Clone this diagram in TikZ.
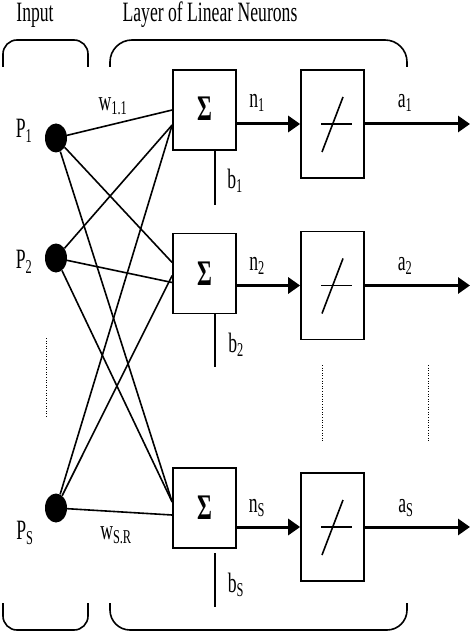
\documentclass[tikz,border=0pt]{standalone}
\usepackage{fontspec}
\setmainfont{Liberation Serif}[FakeStretch=0.63]
\usetikzlibrary{arrows.meta,positioning,calc,shapes.geometric}
\newcommand{\sumsign}{{\fontsize{36}{38}\selectfont\bfseries Σ}}
\tikzset{
  inpt/.style={ellipse,fill=black,minimum width=22pt,minimum height=29pt,inner sep=0pt},
  sumbox/.style={draw,line width=1.7pt,minimum width=63pt,minimum height=80pt,inner sep=0pt},
  linbox/.style={draw,line width=1.7pt,minimum width=63pt,minimum height=108pt,inner sep=0pt},
  wire/.style={line width=1.6pt},
  sig/.style={-{Triangle[length=12pt,width=16pt]},line width=3pt},
  bracket/.style={line width=1.6pt,rounded corners=#1},
  lbl/.style={inner sep=0pt,font=\fontsize{28}{30}\selectfont},
  dots/.style={line width=1pt,dash pattern=on 1pt off 1.6pt},
}
\begin{document}
\begin{tikzpicture}[x=1pt,y=-1pt]
\useasboundingbox (0,0) rectangle (474,631);

% headings and brackets
\node[lbl] (hin) at (35,15) {Input};
\node[lbl] (hlay) at (210,15) {Layer of Linear Neurons};
\draw[bracket=14pt] (3,67) -- (3,40) -- (88,40) -- (88,67);
\draw[bracket=22pt] (110,67) -- (110,40) -- (407,40) -- (407,67);
\draw[bracket=14pt] (3,603) -- (3,630) -- (88,630) -- (88,603);
\draw[bracket=20pt] (110,603) -- (110,630) -- (407,630) -- (407,603);

% inputs
\node[inpt] (p1) at (56,138) {};
\node[inpt] (p2) at (56,258) {};
\node[inpt] (ps) at (56,508) {};
\node[lbl] (lp1) at (24,131) {P\textsubscript{1}};
\node[lbl] (lp2) at (24,262) {P\textsubscript{2}};
\node[lbl] (lps) at (25,533) {P\textsubscript{S}};

% neurons
\node[sumbox] (s1) at (204.5,110) {\raisebox{2pt}{\sumsign}};
\node[sumbox] (s2) at (204.5,273.5) {\sumsign};
\node[sumbox] (s3) at (204.5,508) {\sumsign};
\node[linbox] (l1) at (332.5,124) {};
\node[linbox] (l2) at (332.5,285.5) {};
\node[linbox] (l3) at (332.5,527) {};
\foreach \b in {l1,l2,l3}{
  \draw[wire] ([xshift=-11.5pt]\b.center) -- ([xshift=19.5pt]\b.center);
  \draw[wire] ([xshift=-10.5pt,yshift=-28pt]\b.center) -- ([xshift=10.5pt,yshift=27pt]\b.center);
}

% weights
\draw[wire] (p1) -- (s1.west);
\draw[wire] (p1) -- ([yshift=11pt]s2.west);
\draw[wire] (p1) -- ([yshift=6pt]s3.west);
\draw[wire] (p2) -- ([yshift=-15pt]s1.west);
\draw[wire] (p2) -- ([yshift=-9pt]s2.west);
\draw[wire] (p2) -- ([yshift=6pt]s3.west);
\draw[wire] (ps) -- ([yshift=-15pt]s1.west);
\draw[wire] (ps) -- ([yshift=-2pt]s2.west);
\draw[wire] (ps) -- ([yshift=-7pt]s3.west);
\node[lbl] (w11) at (113,106) {w\textsubscript{1.1}};
\node[lbl] (wsr) at (116,535) {w\textsubscript{S.R}};

% biases
\coordinate (b1e) at (215,205);
\coordinate (b2e) at (215,367);
\coordinate (bst) at (215,553);
\coordinate (bse) at (215,607);
\draw[wire] (s1.south -| b1e) -- (b1e);
\draw[wire] (s2.south -| b2e) -- (b2e);
\draw[wire] (bst) -- (bse);
\node[lbl] (lb1) at (235,181) {b\textsubscript{1}};
\node[lbl] (lb2) at (236,345) {b\textsubscript{2}};
\node[lbl] (lbs) at (236,585) {b\textsubscript{S}};

% net inputs and outputs
\coordinate (o1) at (470,124);
\coordinate (o2) at (470,285.5);
\coordinate (o3) at (470,527);
\draw[sig] (s1.east |- l1.west) -- (l1.west);
\draw[sig] (s2.east |- l2.west) -- (l2.west);
\draw[sig] (s3.east |- l3.west) -- (l3.west);
\draw[sig] (l1.east) -- (o1);
\draw[sig] (l2.east) -- (o2);
\draw[sig] (l3.east) -- (o3);
\node[lbl] (ln1) at (257,103) {n\textsubscript{1}};
\node[lbl] (ln2) at (257,266) {n\textsubscript{2}};
\node[lbl] (lns) at (257,508) {n\textsubscript{S}};
\node[lbl] (la1) at (405,103) {a\textsubscript{1}};
\node[lbl] (la2) at (405,266) {a\textsubscript{2}};
\node[lbl] (las) at (406,508) {a\textsubscript{S}};

% elided rows
\coordinate (d1a) at (46,338);
\coordinate (d1b) at (46,417);
\coordinate (d2a) at (322,365);
\coordinate (d2b) at (322,443);
\coordinate (d3a) at (428,365);
\coordinate (d3b) at (428,443);
\draw[dots] (d1a) -- (d1b);
\draw[dots] (d2a) -- (d2b);
\draw[dots] (d3a) -- (d3b);
\end{tikzpicture}
\end{document}
